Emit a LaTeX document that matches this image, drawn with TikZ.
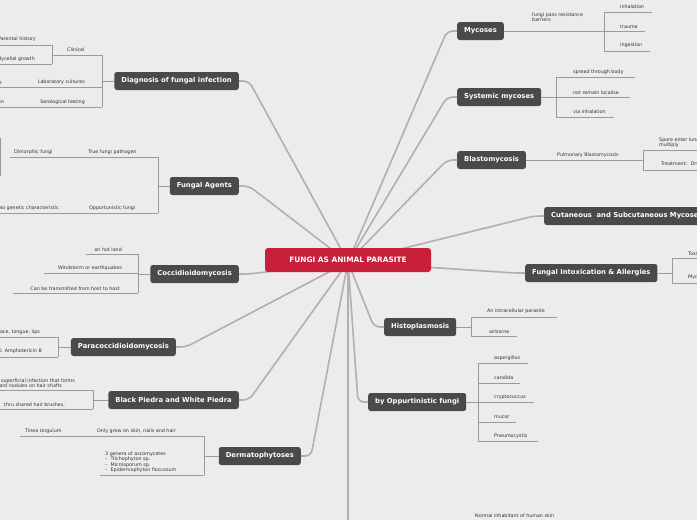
\documentclass[tikz,border=0pt]{standalone}
\usepackage{fontspec}
\setmainfont{DejaVu Sans}
\begin{document}
\begin{tikzpicture}[x=1pt,y=-1pt,
  topic/.style={fill=topicgray,rounded corners=2.5pt,text=white,font=\fontsize{6.8}{7}\bfseries,inner xsep=7pt,minimum height=18pt},
  root/.style={fill=rootred,rounded corners=3pt,text=white,font=\fontsize{7.4}{8}\bfseries,minimum width=166pt,minimum height=24pt},
  branch/.style={draw=linegray,line width=1.6pt,rounded corners=6pt},
  brk/.style={draw=brkgray,line width=0.8pt},
  txt/.style={font=\fontsize{4.8}{5.6}\selectfont,text=txtgray,inner sep=0pt,align=left}]
\definecolor{bg}{HTML}{ECECEC}
\definecolor{topicgray}{HTML}{4A4A4A}
\definecolor{rootred}{HTML}{C8203A}
\definecolor{linegray}{HTML}{B0B0B0}
\definecolor{brkgray}{HTML}{9A9A9A}
\definecolor{txtgray}{HTML}{333333}
\fill[bg] (0,0) rectangle (697,520);
\useasboundingbox (0,0) rectangle (697,520);
\clip (0,0) rectangle (697,520);

% topic nodes
\node[topic,anchor=east] (diag) at (239,81) {Diagnosis of fungal infection};
\node[topic,anchor=east] (agents) at (239,186) {Fungal Agents};
\node[topic,anchor=east] (cocci) at (239,274) {Coccidioidomycosis};
\node[topic,anchor=east] (para) at (176,347) {Paracoccidioidomycosis};
\node[topic,anchor=east] (piedra) at (239,400) {Black Piedra and White Piedra};
\node[topic,anchor=east] (derm) at (301,456) {Dermatophytoses};
\node[topic,anchor=west] (myc) at (457,31) {Mycoses};
\node[topic,anchor=west] (sys) at (457,97) {Systemic mycoses};
\node[topic,anchor=west] (blast) at (457,160) {Blastomycosis};
\node[topic,anchor=west] (cut) at (544,216) {Cutaneous~ and Subcutaneous Mycoses};
\node[topic,anchor=west] (intox) at (525,273) {Fungal Intoxication \& Allergies};
\node[topic,anchor=west] (histo) at (384,327) {Histoplasmosis};
\node[topic,anchor=west] (opp) at (368,402) {by Oppurtinistic fungi};
\coordinate (bottom) at (348,525);

% branches
\coordinate (c) at (348,262);
\draw[branch] (c) -- ([xshift=10pt]diag.east) -- (diag.east);
\draw[branch] (c) -- ([xshift=10pt]agents.east) -- (agents.east);
\draw[branch] (c) -- ([xshift=10pt]cocci.east) -- (cocci.east);
\draw[branch] (c) -- ([xshift=10pt]para.east) -- (para.east);
\draw[branch] (c) -- ([xshift=10pt]piedra.east) -- (piedra.east);
\draw[branch] (c) -- ([xshift=10pt]derm.east) -- (derm.east);
\draw[branch] (c) -- ([xshift=-10pt]myc.west) -- (myc.west);
\draw[branch] (c) -- ([xshift=-10pt]sys.west) -- (sys.west);
\draw[branch] (c) -- ([xshift=-10pt]blast.west) -- (blast.west);
\draw[branch] (c) -- ([xshift=-10pt]cut.west) -- (cut.west);
\draw[branch] (c) -- ([xshift=-10pt]intox.west) -- (intox.west);
\draw[branch] (c) -- ([xshift=-10pt]histo.west) -- (histo.west);
\draw[branch] (c) -- ([xshift=-10pt]opp.west) -- (opp.west);
\draw[branch] (c) -- (bottom);

\node[root] (root) at (348,260) {FUNGI AS ANIMAL PARASITE};

% Diagnosis
\draw[brk] (diag.west) -- (102,81);
\draw[brk] (102,55) -- (102,107);
\draw[brk] (52,55) -- (102,55); \node[txt,anchor=south west] at (67,52) {Clinical};
\draw[brk] (0,87) -- (102,87); \node[txt,anchor=south east] at (85,85) {Laboratory cultures};
\draw[brk] (0,107) -- (102,107); \node[txt,anchor=south east] at (85,105) {Serological testing};
\draw[brk] (52,45) -- (52,64);
\draw[brk] (0,45) -- (52,45); \node[txt,anchor=south east] at (36,42) {Parental history};
\draw[brk] (0,64) -- (52,64); \node[txt,anchor=south east] at (35,62) {Mycelial growth};
\node[txt,anchor=south east] at (2,85) {Culture};
\node[txt,anchor=south east] at (4,105) {Precipitation};

% Fungal agents
\draw[brk] (agents.west) -- (158,186);
\draw[brk] (158,157) -- (158,213);
\draw[brk] (10,157) -- (158,157); \node[txt,anchor=south west] at (88,155) {True fungi pathogen};
\node[txt,anchor=south west] at (14,155) {Dimorphic fungi};
\draw[brk] (0,213) -- (158,213); \node[txt,anchor=south west] at (89,211) {Opportunistic fungi};
\node[txt,anchor=south east] at (59,211) {No genetic characteristic};
\draw[brk] (0,138) -- (0,176);

% Coccidioidomycosis
\draw[brk] (cocci.west) -- (138,274);
\draw[brk] (138,254) -- (138,293);
\draw[brk] (86,254) -- (138,254); \node[txt,anchor=south east] at (122,252) {on hot land};
\draw[brk] (44,273) -- (138,273); \node[txt,anchor=south east] at (122,271) {Windstorm or earthquakes};
\draw[brk] (13,293) -- (138,293); \node[txt,anchor=south east] at (120,291) {Can be transmitted from host to host};

% Paracoccidioidomycosis
\draw[brk] (para.west) -- (58,347);
\draw[brk] (58,337) -- (58,357);
\draw[brk] (0,337) -- (58,337); \node[txt,anchor=south east] at (40,335) {Lesions on face, tongue, lips};
\draw[brk] (0,357) -- (58,357); \node[txt,anchor=south east] at (42,354) {Treatment: Amphotericin B};

% Piedra
\draw[brk] (piedra.west) -- (93,400);
\draw[brk] (93,390) -- (93,409);
\draw[brk] (0,390) -- (93,390); \node[txt,anchor=south east,align=left] at (75,388) {A superficial infection that forms\\hard nodules on hair shafts};
\draw[brk] (0,409) -- (93,409); \node[txt,anchor=south west] at (4,407) {thru shared hair brushes,};

% Dermatophytoses
\draw[brk] (derm.west) -- (204,456);
\draw[brk] (204,436) -- (204,475);
\draw[brk] (20,436) -- (204,436); \node[txt,anchor=south west] at (97,434) {Only grow on skin, nails and hair};
\node[txt,anchor=south west] at (25,434) {Tinea Unguium};
\draw[brk] (100,475) -- (204,475); \node[txt,anchor=south west] at (105,473) {3 genera of ascomycetes\\–~ Trichophyton sp.\\–~ Microsporum sp.\\–~ Epidermophyton floccosum};

% Mycoses
\draw[brk] (myc.east) -- (604,31);
\node[txt,anchor=south west] at (532,22) {fungi pass resistance\\barriers};
\draw[brk] (604,12) -- (604,51);
\draw[brk] (604,12) -- (652,12); \node[txt,anchor=south west] at (620,9) {inhalation};
\draw[brk] (604,31) -- (645,31); \node[txt,anchor=south west] at (620,29) {trauma};
\draw[brk] (604,51) -- (650,51); \node[txt,anchor=south west] at (620,48) {ingestion};

% Systemic
\draw[brk] (sys.east) -- (556,97);
\draw[brk] (556,77) -- (556,117);
\draw[brk] (556,77) -- (635,77); \node[txt,anchor=south west] at (573,75) {spread through body};
\draw[brk] (556,97) -- (630,97); \node[txt,anchor=south west] at (573,95) {not remain localise};
\draw[brk] (556,117) -- (614,117); \node[txt,anchor=south west] at (573,114) {via inhalation};

% Blastomycosis
\draw[brk] (blast.east) -- (643,160);
\node[txt,anchor=south west] at (557,158) {Pulmonary Blastomycosis};
\draw[brk] (643,150) -- (643,170);
\draw[brk] (643,150) -- (697,150); \node[txt,anchor=south west] at (659,148) {Spore enter lungs and\\multiply};
\draw[brk] (643,170) -- (697,170); \node[txt,anchor=south west] at (661,167) {Treatment:~ Drugs};

% Intoxication
\draw[brk] (intox.east) -- (672,273);
\draw[brk] (672,258) -- (672,283);
\draw[brk] (672,258) -- (697,258); \node[txt,anchor=south west] at (688,256) {Toxins};
\draw[brk] (672,283) -- (697,283); \node[txt,anchor=south west] at (688,280) {Mycotoxicosis};

% Histoplasmosis
\draw[brk] (histo.east) -- (471,327);
\draw[brk] (471,317) -- (471,336);
\draw[brk] (471,317) -- (557,317); \node[txt,anchor=south west] at (487,314) {An intracellular parasite};
\draw[brk] (471,336) -- (517,336); \node[txt,anchor=south west] at (489,334) {airborne};

% Opportunistic
\draw[brk] (opp.east) -- (478,402);
\draw[brk] (478,363) -- (478,441);
\draw[brk] (478,363) -- (528,363); \node[txt,anchor=south west] at (494,361) {aspergillus};
\draw[brk] (478,383) -- (520,383); \node[txt,anchor=south west] at (494,380) {candida};
\draw[brk] (478,402) -- (534,402); \node[txt,anchor=south west] at (494,400) {cryptococcus};
\draw[brk] (478,422) -- (516,422); \node[txt,anchor=south west] at (494,419) {mucor};
\draw[brk] (478,441) -- (538,441); \node[txt,anchor=south west] at (494,439) {Pneumocystis};

\node[txt,anchor=south west] at (475,518) {Normal inhabitant of human skin};
\end{tikzpicture}
\end{document}
